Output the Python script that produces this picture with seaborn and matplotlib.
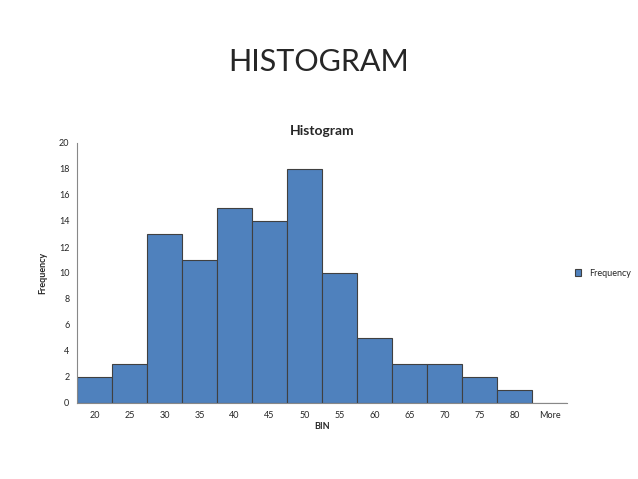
import matplotlib
matplotlib.use("Agg")
import matplotlib.pyplot as plt
import seaborn as sns
import pandas as pd

bins = ["20", "25", "30", "35", "40", "45", "50", "55", "60", "65", "70", "75", "80", "More"]
frequency = [2, 3, 13, 11, 15, 14, 18, 10, 5, 3, 3, 2, 1, 0]

df = pd.DataFrame({"BIN": bins, "Frequency": frequency})

sns.set_style("white")
plt.rcParams["font.family"] = ["Lato", "DejaVu Sans"]

fig = plt.figure(figsize=(6.38, 4.79), dpi=100)
ax = fig.add_axes([77 / 638, 1 - 403 / 479, 490 / 638, 260 / 479])

sns.barplot(data=df, x="BIN", y="Frequency", color="#4f81bd", width=1.0,
            edgecolor="#404040", linewidth=0.8, saturation=1, ax=ax, label="Frequency")

ax.set_ylim(0, 20)
ax.set_yticks(range(0, 21, 2))
ax.set_xlim(-0.5, len(bins) - 0.5)
ax.tick_params(axis="both", labelsize=6.5, length=2, color="#888888")
ax.tick_params(axis="x", length=0, pad=6)
for s in ["top", "right"]:
    ax.spines[s].set_visible(False)
for s in ["left", "bottom"]:
    ax.spines[s].set_color("#888888")
    ax.spines[s].set_linewidth(0.8)
ax.set_xlabel("BIN", fontsize=6.5, fontweight="bold", labelpad=1)
ax.set_ylabel("Frequency", fontsize=6.5, fontweight="bold", labelpad=8)
ax.set_title("Histogram", fontsize=10, fontweight="bold", pad=6)

ax.legend(loc="center left", bbox_to_anchor=(1.0, 0.5), frameon=False, fontsize=6.5,
          handlelength=0.7, handleheight=0.7)

fig.text(0.5, 1 - 62 / 479, "HISTOGRAM", ha="center", va="center", fontsize=22)

fig.savefig("out.png", dpi=100)
